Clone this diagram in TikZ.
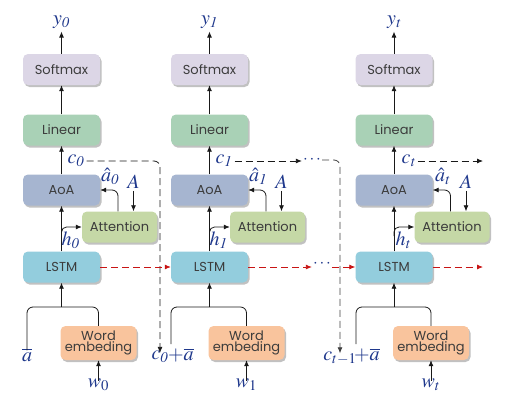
\documentclass[tikz,border=0pt]{standalone}
\usepackage{mathptmx}
\usepackage{fontspec}
\setsansfont{Poppins}
\usetikzlibrary{arrows.meta,shadows,calc}
\definecolor{csoft}{RGB}{220,214,230}
\definecolor{clin}{RGB}{169,209,182}
\definecolor{caoa}{RGB}{166,181,208}
\definecolor{catt}{RGB}{197,216,166}
\definecolor{clstm}{RGB}{147,205,221}
\definecolor{cwe}{RGB}{249,196,157}
\definecolor{txt}{RGB}{60,60,60}
\definecolor{navy}{RGB}{31,56,140}
\definecolor{dred}{RGB}{200,20,20}
\begin{document}
\begin{tikzpicture}[x=1pt,y=-1pt,
  box/.style={rounded corners=5pt, minimum width=77pt, minimum height=31pt, inner sep=0pt,
    font=\sffamily\fontsize{13}{14}\selectfont, text=txt,
    drop shadow={shadow xshift=1.5pt, shadow yshift=-2pt, opacity=0.35, fill=black!70}},
  lab/.style={text=navy, font=\fontsize{20}{20}\selectfont, inner sep=0pt},
  arr/.style={-{Latex[length=6pt,width=5pt]}},
  ln/.style={draw=black!90, line width=0.8pt},
  dsh/.style={ln, dash pattern=on 7pt off 4pt},
  rdsh/.style={draw=dred, line width=0.8pt, dash pattern=on 7pt off 4pt}]
\useasboundingbox (0,0) rectangle (506,410);
\foreach \i/\cx/\s in {1/61.5/0,2/209.5/1,3/394/t}{
  \node[box,fill=csoft] (sm\i) at (\cx,69.5) {Softmax};
  \node[box,fill=clin] (lin\i) at (\cx,130) {Linear};
  \node[box,fill=caoa] (aoa\i) at (\cx,190) {AoA};
  \node[box,fill=catt,minimum width=75pt] (att\i) at (\cx+58,227) {Attention};
  \node[box,fill=clstm] (lstm\i) at (\cx,267) {LSTM};
  \node[box,fill=cwe,minimum width=76pt,minimum height=34pt,align=center] (we\i) at (\cx+37,343) {Word\\[-3pt]embeding};
  \node[lab] (y\i) at (\cx,22) {$y_{\mathit{\s}}$};
  \node[lab] (c\i) at (\cx+14.5,161) {$c_{\mathit{\s}}$};
  \node[lab] (ah\i) at (\cx+48.5,176) {$\hat{a}_{\mathit{\s}}$};
  \node[lab] (A\i) at (\cx+72,182) {$A$};
  \node[lab] (h\i) at (\cx+9,240) {$h_{\mathit{\s}}$};
  \node[lab] (w\i) at (\cx+37,385) {$w_{\s}$};
  \coordinate (mg\i) at (\cx,307);
  \draw[ln,arr] (sm\i.north) -- ([yshift=-3pt]y\i.south);
  \draw[ln,arr] (lin\i.north) -- (sm\i.south);
  \draw[ln,arr] (aoa\i.north) -- (lin\i.south);
  \draw[ln,arr] (lstm\i.north) -- (aoa\i.south);
  \draw[ln,arr,rounded corners=5pt] (\cx,236) |- (att\i.west);
  \draw[ln,arr,rounded corners=6pt] ([xshift=-1.5pt]att\i.north) |- (aoa\i.east);
  \draw[ln,arr] ([yshift=-2pt]A\i.south) -- (A\i.south |- att\i.north);
  \draw[ln,arr] (mg\i) -- (lstm\i.south);
  \draw[ln,arr] ([yshift=-2pt]w\i.north) -- (we\i.south);
}
% inputs
\node[lab] (ab) at (27,355) {$\overline{a}$};
\node[lab] (cin2) at (160,357) {$c_{\mathit{0}}$};
\node[lab,anchor=west] (pa2) at (168,355) {$+\overline{a}$};
\node[lab] (cin3) at (340,358) {$c_{t-1}$};
\node[lab,anchor=west] (pa3) at (354,355) {$+\overline{a}$};
\coordinate (s2) at (171,344);
\coordinate (s3) at (356,344);
\draw[ln,rounded corners=6pt] ([yshift=-2pt]ab.north) |- (mg1) -| (we1.north);
\draw[ln,rounded corners=6pt] (s2) |- (mg2) -| (we2.north);
\draw[ln,rounded corners=6pt] (s3) |- (mg3) -| (we3.north);
% context dashed lines
\node[text=navy,inner sep=1pt,font=\fontsize{17}{17}\selectfont] (d1) at (312,160) {$\cdots$};
\node[text=navy,inner sep=1pt,font=\fontsize{17}{17}\selectfont] (d2) at (322,264) {$\cdots$};
\coordinate (ce) at (483,163);
\coordinate (le) at (483,267);
\draw[dsh,arr,rounded corners=6pt] ([xshift=2pt]c1.east) -| ([yshift=-2pt]cin2.north);
\draw[dsh,arr] ([xshift=2pt]c2.east) -- (c2.east -| d1.west);
\draw[dsh,draw=black!75,arr,rounded corners=6pt] (d1.east) -| ([yshift=-2pt]cin3.north);
\draw[dsh,arr] ([xshift=2pt]c3.east) -- (c3.east -| ce);
% red recurrent
\draw[rdsh,arr] (lstm1.east) -- (lstm2.west);
\draw[rdsh,arr] (lstm2.east) -- (lstm2.east -| d2.west);
\draw[rdsh,arr] (lstm3.west -| d2.east) -- (lstm3.west);
\draw[rdsh,arr] (lstm3.east) -- (lstm3.east -| le);
\end{tikzpicture}
\end{document}
